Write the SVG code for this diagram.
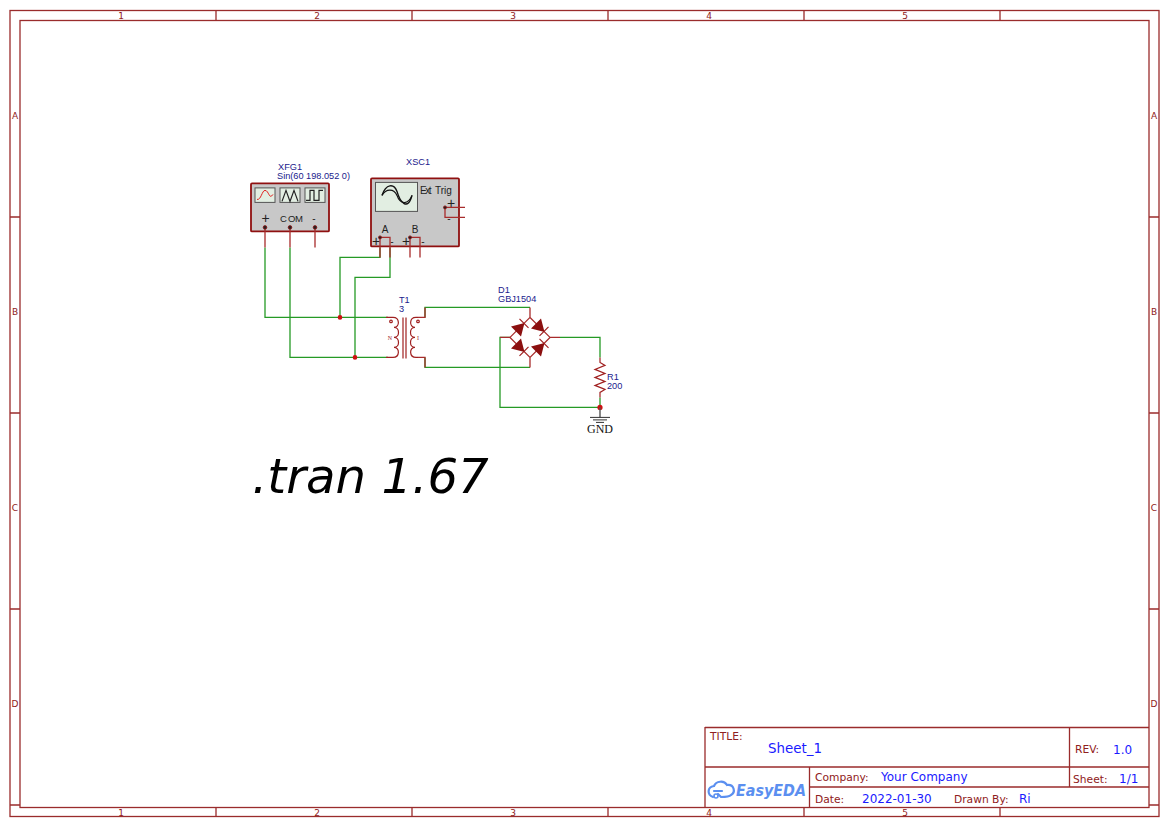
<svg xmlns="http://www.w3.org/2000/svg" width="1169" height="828" viewBox="0 0 1169 828">
<style>
text{font-family:"DejaVu Sans",sans-serif}
.f{fill:none;stroke:#9a2c2c;stroke-width:1.300}
.b{fill:#8f2020;font-size:9px;text-anchor:middle}
.l{fill:#8f2020;font-size:10.700px}
.v{fill:#1a1aff;font-size:12px}
.w{fill:none;stroke:#259a25;stroke-width:1.300}
.p{fill:none;stroke:#a82c2c;stroke-width:1.300}
.c{fill:none;stroke:#a02020;stroke-width:1.200}
.n{fill:#1a1a8c;font-size:9.200px;font-family:"Liberation Sans",sans-serif}
.m{fill:#222;font-family:"Liberation Sans",sans-serif;font-size:10px}
.pl{fill:#222;font-family:"Liberation Sans",sans-serif;font-size:14px;text-anchor:middle}
.s{font-family:"Liberation Serif",serif}
.box{fill:#c8c8c8;stroke:#8f1010;stroke-width:1.800}
.scr{fill:#e2eee2;stroke:#555;stroke-width:1}
.dot{fill:#222;stroke:#8f1010;stroke-width:.8}
.j{fill:#cc1010}
.d{fill:#8b0f0f}
</style>
<g id="frame">
<rect class="f" x="10" y="10.500" width="1149" height="806"/>
<rect class="f" x="20" y="20.500" width="1129" height="787"/>
<path class="f" d="M216 11V21M412 11V21M608 11V21M804 11V21M1000 11V21M216 807V817M412 807V817M608 807V817M804 807V817M1000 807V817M10 217H20M10 413H20M10 609H20M10 805H20M1149 217H1159M1149 413H1159M1149 609H1159M1149 805H1159"/>
<g class="b">
<text x="121" y="19">1</text><text x="317" y="19">2</text><text x="513" y="19">3</text><text x="709" y="19">4</text><text x="905" y="19">5</text>
<text x="121" y="816">1</text><text x="317" y="816">2</text><text x="513" y="816">3</text><text x="709" y="816">4</text><text x="905" y="816">5</text>
<text x="15" y="119">A</text><text x="15" y="315">B</text><text x="15" y="511">C</text><text x="15" y="707">D</text>
<text x="1154" y="119">A</text><text x="1154" y="315">B</text><text x="1154" y="511">C</text><text x="1154" y="707">D</text>
</g>
</g>
<g id="title-block">
<path class="f" d="M705 727V807M705 727.500H1149M705 767H1149M809.500 767V807M809.500 787H1149M1069.500 727V787"/>
<text class="l" x="710" y="740">TITLE:</text>
<text x="768" y="753" fill="#1a1aff" font-size="13.400">Sheet_1</text>
<text class="l" x="1075" y="753">REV:</text>
<text class="v" x="1113" y="754">1.0</text>
<text class="l" x="815" y="781">Company:</text>
<text class="v" x="881" y="781">Your Company</text>
<text class="l" x="1073" y="783">Sheet:</text>
<text class="v" x="1119" y="783">1/1</text>
<text class="l" x="815" y="803">Date:</text>
<text class="v" x="862" y="803">2022-01-30</text>
<text class="l" x="954" y="803">Drawn By:</text>
<text class="v" x="1019" y="803">Ri</text>
<g id="logo">
<path d="M713 797C707 795 707 787 714 786C716 781 724 780 727 785C734 784 736 792 731 795C729 797 725 797 721 797L718 794M714 791H722" fill="none" stroke="#5b8ff0" stroke-width="2.200" stroke-linecap="round"/>
<circle cx="716" cy="796" r="2" fill="none" stroke="#5b8ff0" stroke-width="1.600"/>
<text x="736" y="796" fill="#5b8ff0" font-size="15.500" font-weight="bold" font-style="italic" textLength="70" lengthAdjust="spacingAndGlyphs">EasyEDA</text>
</g>
</g>
<g transform="translate(0 .4)">
<g id="connectors">
<path class="w" d="M265 247V317H388M290 247V357H388M340 317V257H380V247M355 357V277H390V247M425 317V307H530M425 357V367H530M510 337H500V407H600M560 337H600V357M600 397V407"/>
<circle class="j" cx="340" cy="317" r="2.300"/>
<circle class="j" cx="355" cy="357" r="2.300"/>
<circle class="j" cx="600" cy="407" r="2.600"/>
</g>
<g id="XFG1">
<rect class="box" x="251" y="183" width="78" height="48" rx="1"/>
<rect class="scr" x="255" y="187.500" width="20" height="14.500"/>
<rect class="scr" x="280" y="187.500" width="20" height="14.500"/>
<rect class="scr" x="305" y="187.500" width="20" height="14.500"/>
<path d="M257 199C261 200 262 190 265 190C269 190 269 200 273 194" fill="none" stroke="#e02020" stroke-width="1"/>
<path d="M282 201L286 190L290 201L294 190L298 201" fill="none" stroke="#222" stroke-width="1.200"/>
<path d="M306 200H310V190H314V200H319V190H323" fill="none" stroke="#222" stroke-width="1.200"/>
<text class="pl" x="265.500" y="223">+</text>
<text class="m" x="280 288 295" y="222" style="font-size:9.500px">COM</text>
<text class="m" x="314" y="222" text-anchor="middle">-</text>
<path class="p" d="M265 227V247M290 227V247M315 227V247"/>
<circle class="dot" cx="265" cy="227" r="1.800"/>
<circle class="dot" cx="290" cy="227" r="1.800"/>
<circle class="dot" cx="315" cy="227" r="1.800"/>
<text class="n" x="278" y="170">XFG1</text>
<text class="n" x="277" y="179">Sin(60 198.052 0)</text>
</g>
<g id="XSC1">
<rect class="box" x="371" y="178" width="88" height="68" rx="1"/>
<rect class="scr" x="375.500" y="182" width="42" height="29"/>
<path d="M382 195C386 183 394 183 397 191C400 202 408 211 412 195" fill="none" stroke="#111" stroke-width="1.400"/>
<path d="M382 195C386 188 394 188 397 195C400 204 408 205 412 195" fill="none" stroke="#111" stroke-width="1.200"/>
<text class="m" x="420" y="194" letter-spacing="-1.500">Ext</text>
<text class="m" x="435" y="194">Trig</text>
<text class="pl" x="451" y="207.500">+</text>
<text class="m" x="449" y="222" text-anchor="middle">-</text>
<text class="m" x="385" y="233" text-anchor="middle">A</text>
<text class="m" x="415" y="233" text-anchor="middle">B</text>
<text class="pl" x="376" y="246">+</text>
<text class="m" x="392" y="245" text-anchor="middle">-</text>
<text class="pl" x="406" y="246">+</text>
<text class="m" x="423" y="245" text-anchor="middle">-</text>
<path class="p" d="M380 237V257M380 237H390V257M410 237V257M410 237H420V257M445 207H465M445 207V217H465"/>
<circle class="dot" cx="380" cy="237" r="1.500"/>
<circle class="dot" cx="410" cy="237" r="1.500"/>
<circle class="dot" cx="445" cy="207" r="1.500"/>
<text class="n" x="406" y="165">XSC1</text>
</g>
<g id="T1">
<path class="p" d="M418 317H425V307M418 357H425V367"/>
<path class="c" d="M386 317H393C400 317 400 327 394 327C400 327 400 337 394 337C400 337 400 347 394 347C400 347 400 357 393 357H386"/>
<path class="c" d="M418 317H416C409 317 409 327 415 327C409 327 409 337 415 337C409 337 409 347 415 347C409 347 409 357 416 357H418"/>
<path class="c" d="M403 317V358M406 317V358"/>
<circle class="c" cx="391" cy="321" r="1.300"/>
<circle class="c" cx="418" cy="321" r="1.300"/>
<text class="s" x="390" y="340" fill="#a02828" font-size="6" text-anchor="middle">N</text>
<text class="s" x="418" y="340" fill="#a02828" font-size="6" text-anchor="middle">I</text>
<text class="n" x="399" y="303">T1</text>
<text class="n" x="399" y="312">3</text>
</g>
<g id="D1">
<path class="p" d="M530 307V317L550 337L530 357L510 337L530 317M530 357V367M510 337H500M550 337H560"/>
<path class="d" d="M511 326L521 336L524.500 322.500ZM531 328L541 318L544.500 331.500ZM511 348L521 338L524.500 351.500ZM531 346L541 356L544.500 342.500Z"/>
<path class="c" d="M519.500 318.500L528.500 327.500M539.500 335.500L548.500 326.500M519.500 355.500L528.500 346.500M539.500 338.500L548.500 347.500"/>
<text class="n" x="498" y="293">D1</text>
<text class="n" x="498" y="302">GBJ1504</text>
</g>
<g id="R1">
<path class="c" d="M600 357V362L605 365L595 369L605 373L595 377L605 381L595 385L605 389L600 392V397"/>
<text class="n" x="607" y="380">R1</text>
<text class="n" x="607" y="389">200</text>
</g>
<g id="GND">
<path d="M600 407V417" stroke="#555" stroke-width="1.400"/>
<path d="M590 417H610M593 419.500H607M596 422H604" stroke="#333" stroke-width="1"/>
<text class="s" x="600" y="433" font-size="12" text-anchor="middle" fill="#111">GND</text>
</g>
</g>
<text x="252" y="493" font-size="48.200" font-style="italic" fill="#000">.tran 1.67</text>
</svg>
